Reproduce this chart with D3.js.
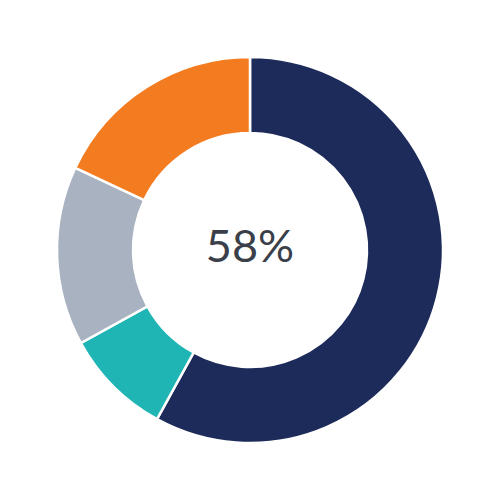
<!DOCTYPE html>
<html><head><meta charset="utf-8">
<script src="https://cdn.jsdelivr.net/npm/d3@7"></script>
<style>html,body{margin:0;padding:0;background:#fff;}</style>
</head><body>
<svg id="chart" width="500" height="500"></svg>
<script>
const categories = ["A", "B", "C", "D"];
const values = [58, 9, 15, 18];
const colors = ["#1c2b5a", "#1fb5b5", "#a8b2c1", "#f47c20"];
const centerLabel = "58%";

const svg = d3.select("#chart");
const g = svg.append("g").attr("transform", "translate(250,250)");
const pie = d3.pie().sort(null).value(d => d.v);
const arc = d3.arc().innerRadius(117).outerRadius(193);
const data = categories.map((c, i) => ({c, v: values[i], col: colors[i]}));
g.selectAll("path").data(pie(data)).join("path")
  .attr("d", arc).attr("fill", d => d.data.col)
  .attr("stroke", "#fff").attr("stroke-width", 2.5);
g.append("text").attr("text-anchor", "middle").attr("y", 12)
  .attr("font-family", "Lato").attr("font-size", 45)
  .attr("fill", "#3a3f4a").text(centerLabel);
</script>
</body></html>
